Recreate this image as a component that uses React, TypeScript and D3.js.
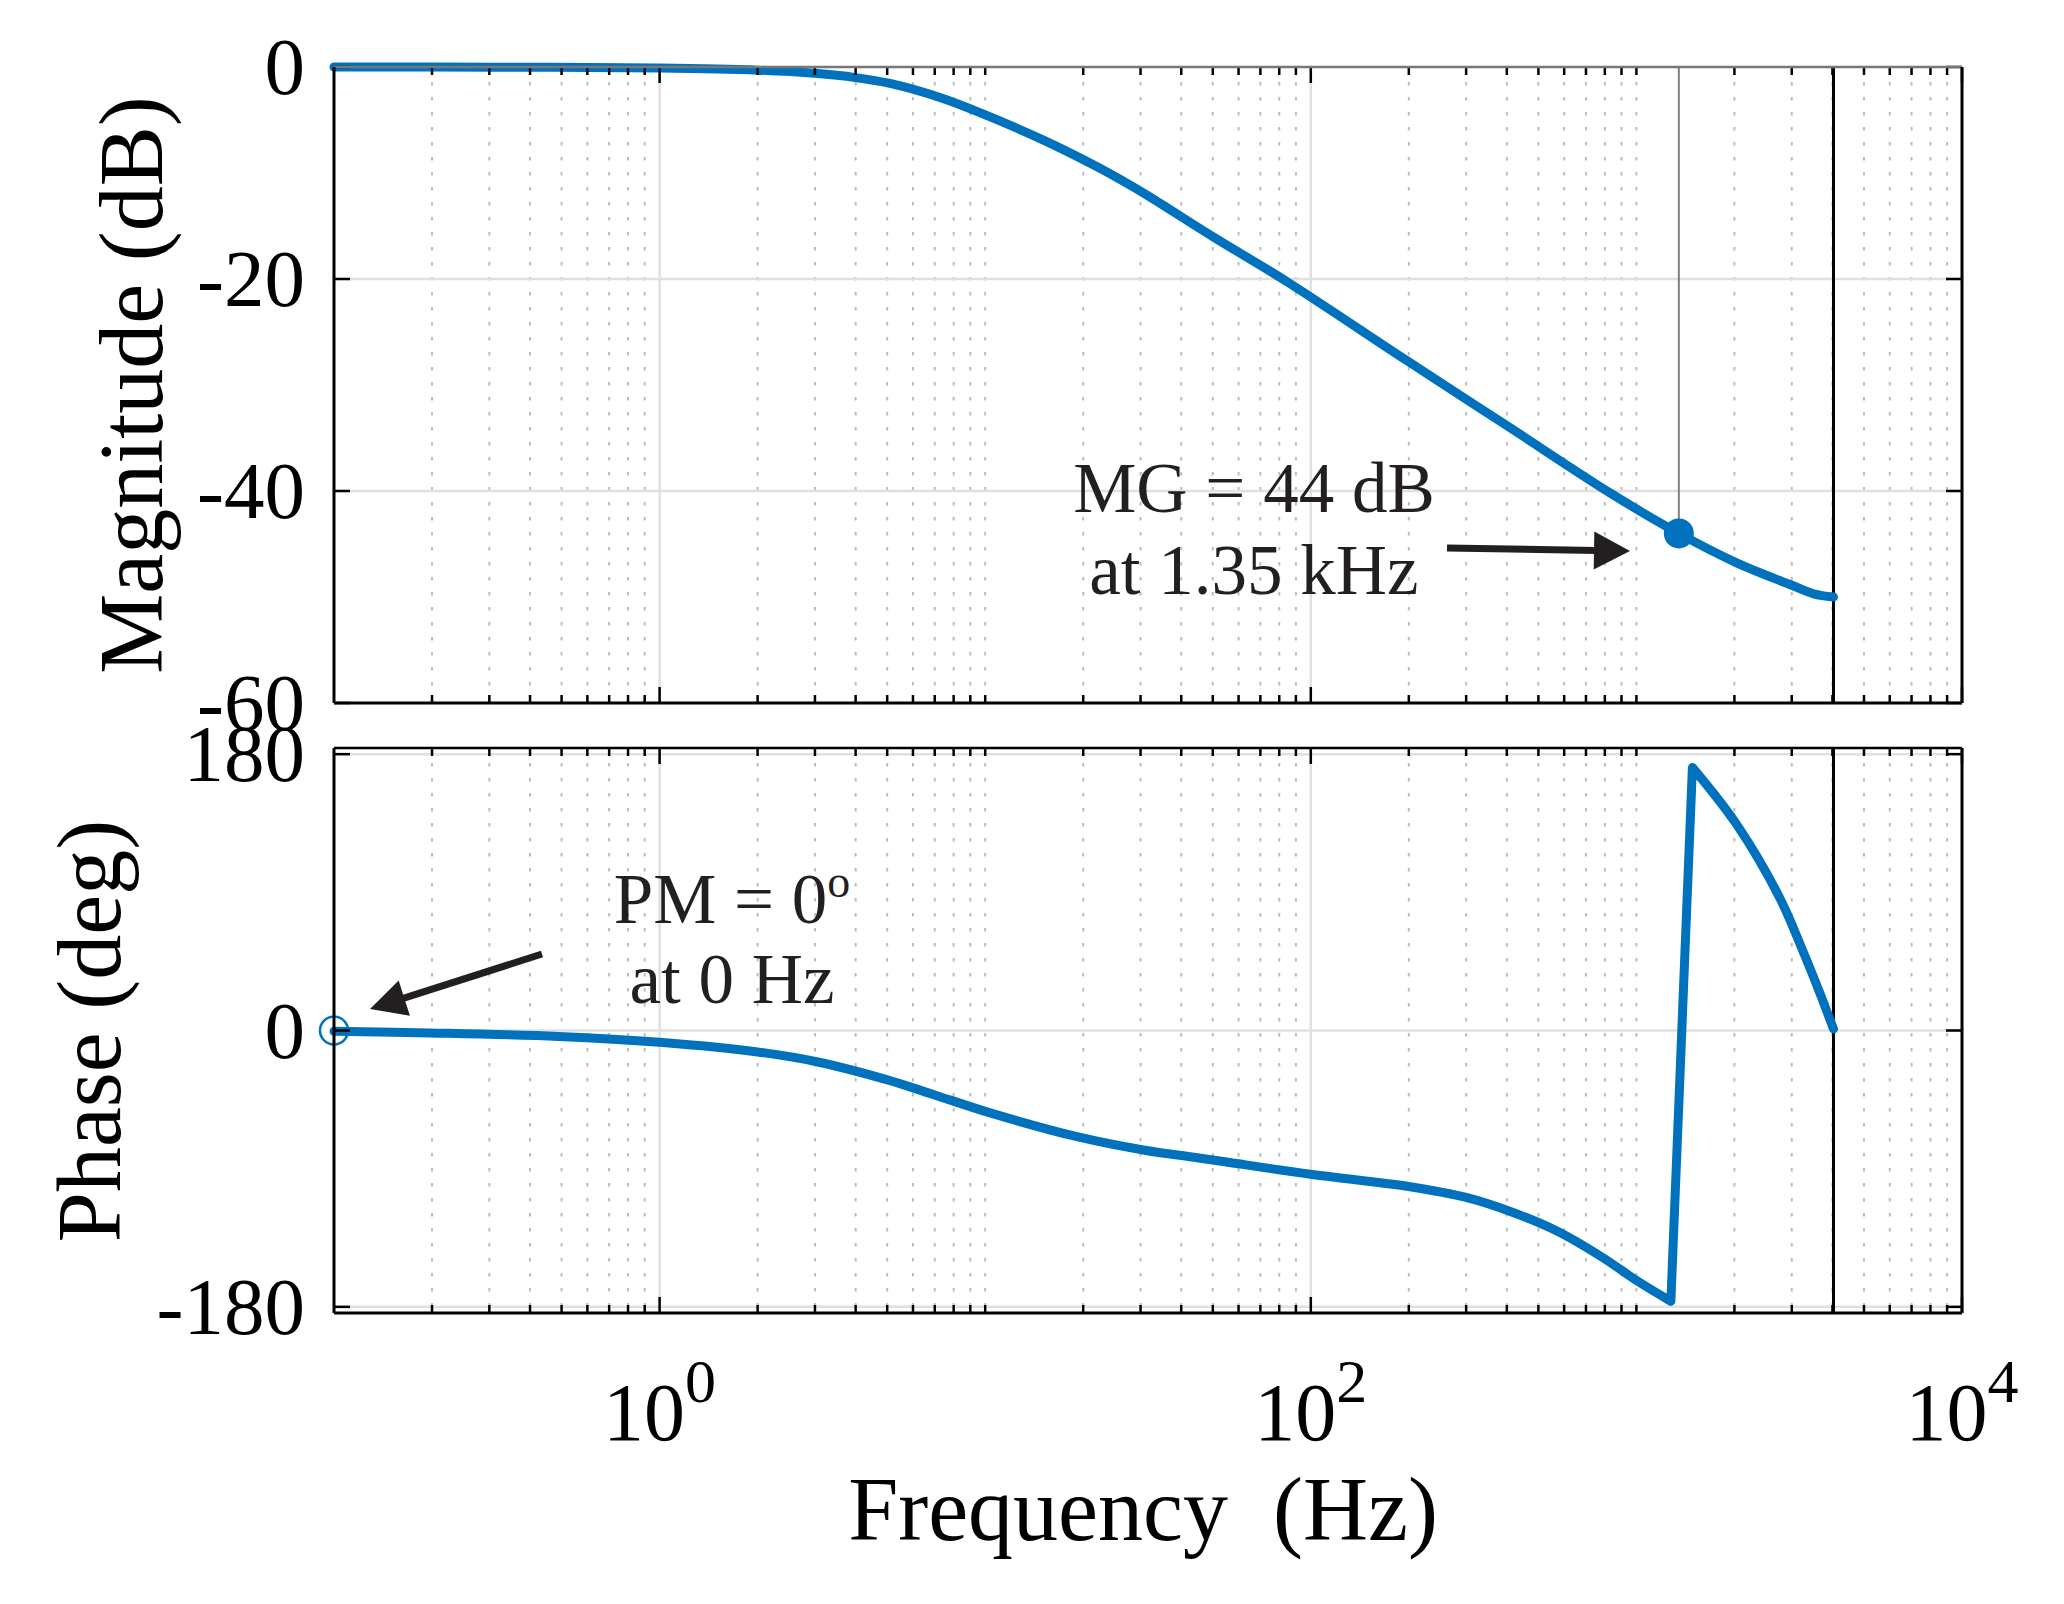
import React from "react";
import * as d3 from "d3";

// ---- data ----
const magFreq = [0.1, 0.316, 1, 2, 3, 4, 5.1, 7.3, 9.8, 15.1, 21.7, 27.7, 32.2, 50, 85, 195, 403, 832, 1350, 2040, 2950, 3500, 4030];
const magDb = [0, -0.02, -0.1, -0.3, -0.6, -1.0, -1.55, -2.9, -4.4, -6.9, -9.3, -11.1, -12.3, -16.0, -20.3, -27.6, -33.9, -40.2, -44.0, -46.8, -48.8, -49.7, -50.0];

const phaseFreqA = [0.1, 0.197, 0.49, 1, 2, 3.06, 4.98, 6.89, 10.3, 19, 30.9, 45.3, 56.4, 99.8, 199.5, 302, 416, 570, 783, 1007, 1276];
const phaseDegA = [-0.5, -1.6, -3.9, -7.7, -14, -20.5, -32, -41.5, -53.5, -69, -78, -83, -86, -93.6, -101.6, -108.9, -118.4, -130.6, -147.5, -163.2, -176.4];
const phaseFreqB = [1486, 2018, 2754, 3228, 3650, 4030];
const phaseDegB = [171.3, 135.1, 86.5, 53, 25, 1];

const xMajorTicks = [1, 100, 10000];
const xTickExp = ["0", "2", "4"];
const magTicks = [0, -20, -40, -60];
const phaseTicks = [180, 0, -180];

const mgFreq = 1350;
const mgDb = -44;
const nyquistFreq = 4030;
const pmFreq = 0.1;
const pmDeg = 0;

const FONT = "'Liberation Serif', 'Times New Roman', Times, serif";
const BLUE = "#0072BD";

function arrowShape(x1: number, y1: number, x2: number, y2: number, headLen: number, headHalf: number) {
  const dx = x2 - x1, dy = y2 - y1;
  const L = Math.hypot(dx, dy);
  const ux = dx / L, uy = dy / L;
  const bx = x2 - ux * headLen, by = y2 - uy * headLen;
  const px = -uy, py = ux;
  return {
    shaft: { x1, y1, x2: bx + ux * 2, y2: by + uy * 2 },
    head: `${x2},${y2} ${bx + px * headHalf},${by + py * headHalf} ${bx - px * headHalf},${by - py * headHalf}`,
  };
}

export default function App() {
  const W = 2064, H = 1604;
  const x = d3.scaleLog().domain([0.1, 10000]).range([334, 1962]);
  const yMag = d3.scaleLinear().domain([-60, 0]).range([703, 67]);
  const yPh = d3.scaleLinear().domain([-184, 184]).range([1313, 748]);

  const minorTicks: number[] = [];
  for (let e = -1; e <= 3; e++) {
    for (let k = 1; k <= 9; k++) {
      const f = k * Math.pow(10, e);
      if (f > 0.1 * 1.0001 && f < 9999 && !xMajorTicks.some((m) => Math.abs(m - f) < 1e-9)) minorTicks.push(f);
    }
  }

  const curve = d3.curveCatmullRom.alpha(0.5);
  const magLine = d3
    .line<number>()
    .x((_, i) => x(magFreq[i]))
    .y((d) => yMag(d))
    .curve(curve);
  const phA = d3
    .line<number>()
    .x((_, i) => x(phaseFreqA[i]))
    .y((d) => yPh(d))
    .curve(curve);
  const phB = d3
    .line<number>()
    .x((_, i) => x(phaseFreqB[i]))
    .y((d) => yPh(d))
    .curve(curve);
  const phasePath = (phA(phaseDegA) || "") + (phB(phaseDegB) || "").replace(/^M/, "L");

  const axes = [
    { top: 67, bottom: 703, y: yMag, ticks: magTicks, grid: [-20, -40], topColor: "#777" },
    { top: 748, bottom: 1313, y: yPh, ticks: phaseTicks, grid: [180, 0, -180], topColor: "#000" },
  ];
  const left = 334, right = 1962;

  const mgA = arrowShape(1447, 548, 1630, 551, 36, 19);
  const pmA = arrowShape(542, 954, 370, 1009, 36, 18.5);

  return (
    <svg width={W} height={H} style={{ position: "absolute", left: 0, top: 0, background: "#fff" }} fontFamily={FONT}>
      <rect x={0} y={0} width={W} height={H} fill="#fff" />
      {axes.map((a, ai) => (
        <g key={"grid" + ai}>
          {minorTicks.map((f) => (
            <line key={"mg" + f} x1={x(f)} x2={x(f)} y1={a.top} y2={a.bottom} stroke="#bcbcbc" strokeWidth={2} strokeDasharray="3.5,11.5" />
          ))}
          {xMajorTicks.slice(0, 2).map((f) => (
            <line key={"Mg" + f} x1={x(f)} x2={x(f)} y1={a.top} y2={a.bottom} stroke="#e0e0e0" strokeWidth={2.5} />
          ))}
          {a.grid.map((v) => (
            <line key={"hg" + v} x1={left} x2={right} y1={a.y(v)} y2={a.y(v)} stroke="#e0e0e0" strokeWidth={2.5} />
          ))}
        </g>
      ))}

      {/* gain margin vertical line */}
      <line x1={x(mgFreq)} x2={x(mgFreq)} y1={67} y2={yMag(mgDb)} stroke="#808080" strokeWidth={2} />
      {/* Nyquist lines */}
      <line x1={x(nyquistFreq)} x2={x(nyquistFreq)} y1={67} y2={703} stroke="#000" strokeWidth={3} />
      <line x1={x(nyquistFreq)} x2={x(nyquistFreq)} y1={748} y2={1313} stroke="#000" strokeWidth={3} />

      {/* curves */}
      <path d={magLine(magDb) || ""} fill="none" stroke={BLUE} strokeWidth={9} strokeLinejoin="round" strokeLinecap="round" />
      <path d={phasePath} fill="none" stroke={BLUE} strokeWidth={9} strokeLinejoin="round" strokeLinecap="round" />

      {/* markers */}
      <circle cx={x(mgFreq)} cy={yMag(mgDb)} r={15} fill={BLUE} />
      <circle cx={x(pmFreq)} cy={yPh(pmDeg)} r={14} fill="none" stroke={BLUE} strokeWidth={2.5} />

      {/* axes boxes and ticks */}
      {axes.map((a, ai) => (
        <g key={"ax" + ai}>
          {minorTicks.map((f) => (
            <g key={"mt" + f}>
              <line x1={x(f)} x2={x(f)} y1={a.top} y2={a.top + 8} stroke="#000" strokeWidth={2.5} />
              <line x1={x(f)} x2={x(f)} y1={a.bottom} y2={a.bottom - 8} stroke="#000" strokeWidth={2.5} />
            </g>
          ))}
          {xMajorTicks.map((f) => (
            <g key={"Mt" + f}>
              <line x1={x(f)} x2={x(f)} y1={a.top} y2={a.top + 16} stroke="#000" strokeWidth={2.5} />
              <line x1={x(f)} x2={x(f)} y1={a.bottom} y2={a.bottom - 16} stroke="#000" strokeWidth={2.5} />
            </g>
          ))}
          {a.ticks.map((v) => (
            <g key={"yt" + v}>
              <line x1={left} x2={left + 16} y1={a.y(v)} y2={a.y(v)} stroke="#000" strokeWidth={2.5} />
              <line x1={right} x2={right - 16} y1={a.y(v)} y2={a.y(v)} stroke="#000" strokeWidth={2.5} />
            </g>
          ))}
          <line x1={left} x2={right} y1={a.top} y2={a.top} stroke={a.topColor} strokeWidth={2.5} />
          <line x1={left} x2={right} y1={a.bottom} y2={a.bottom} stroke="#000" strokeWidth={3} />
          <line x1={left} x2={left} y1={a.top} y2={a.bottom} stroke="#000" strokeWidth={3} />
          <line x1={right} x2={right} y1={a.top} y2={a.bottom} stroke="#000" strokeWidth={3} />
          {a.ticks.map((v) => (
            <text key={"yl" + v} x={305} y={a.y(v) + 27} fontSize={81} textAnchor="end" fill="#000">
              {String(v)}
            </text>
          ))}
        </g>
      ))}

      {/* x tick labels */}
      {xMajorTicks.map((f, i) => (
        <text key={"xl" + f} x={x(f)} y={1440} fontSize={82} textAnchor="middle" fill="#000">
          <tspan>10</tspan>
          <tspan dy={-38} fontSize={62}>{xTickExp[i]}</tspan>
        </text>
      ))}

      {/* axis labels */}
      <text transform="translate(162,385) rotate(-90)" fontSize={90} textAnchor="middle" fill="#000">
        Magnitude (dB)
      </text>
      <text transform="translate(120,1031) rotate(-90)" fontSize={90} textAnchor="middle" fill="#000">
        Phase (deg)
      </text>
      <text x={1143} y={1540} fontSize={90} textAnchor="middle" fill="#000" style={{ whiteSpace: "pre" }}>
        {"Frequency  (Hz)"}
      </text>

      {/* annotations */}
      <text x={1254} y={512} fontSize={71} textAnchor="middle" fill="#231f20">MG = 44 dB</text>
      <text x={1254} y={594} fontSize={71} textAnchor="middle" fill="#231f20">at 1.35 kHz</text>
      <line {...mgA.shaft} stroke="#231f20" strokeWidth={7} />
      <polygon points={mgA.head} fill="#231f20" />

      <text x={732} y={923} fontSize={71} textAnchor="middle" fill="#231f20">
        <tspan>PM = 0</tspan>
        <tspan dy={-26} fontSize={46}>o</tspan>
      </text>
      <text x={732} y={1003} fontSize={71} textAnchor="middle" fill="#231f20">at 0 Hz</text>
      <line {...pmA.shaft} stroke="#231f20" strokeWidth={7} />
      <polygon points={pmA.head} fill="#231f20" />
    </svg>
  );
}
